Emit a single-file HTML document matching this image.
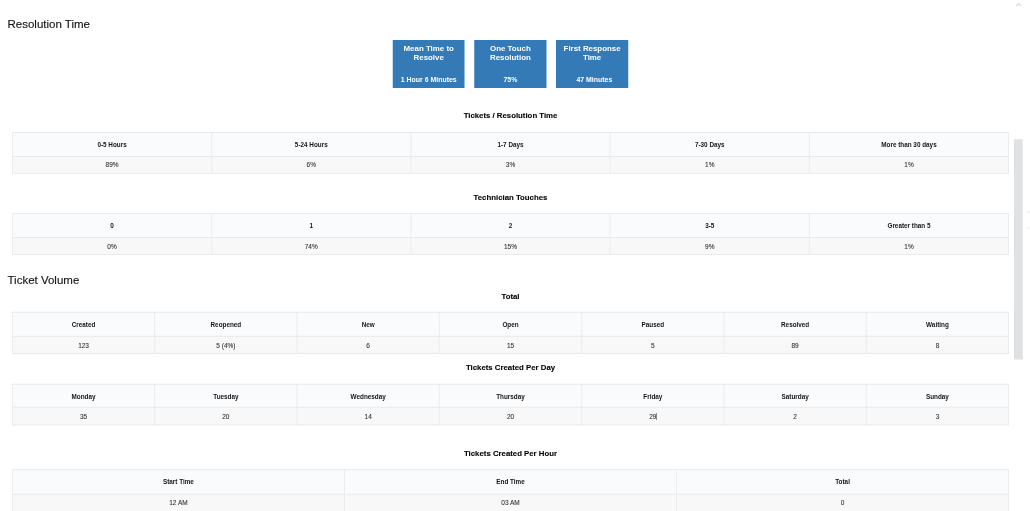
<!DOCTYPE html>
<html><head><meta charset="utf-8"><title>Report</title>
<style>
html,body{margin:0;padding:0;background:#fff;overflow:hidden;}
body{width:1030px;height:511px;position:relative;}
#pg{position:absolute;left:0;top:0;width:4120.00px;height:2044.00px;transform:scale(0.25);transform-origin:0 0;font-family:"Liberation Sans",Arial,sans-serif;color:#333;overflow:hidden;}
.h{position:absolute;left:30.00px;font-size:46.00px;color:#111;-webkit-text-stroke:0.48px #111;line-height:56.00px;white-space:nowrap;}
.cap{position:absolute;left:49.60px;width:3984.80px;text-align:center;font-weight:bold;font-size:31.20px;line-height:40.00px;color:#000;-webkit-text-stroke:0.40px #000;white-space:nowrap;}
.box{position:absolute;top:159.60px;height:192.40px;background:#337ab7;color:#fff;font-weight:bold;text-align:center;}
.box .t{position:absolute;left:0;right:0;top:15.80px;font-size:31.60px;line-height:36.00px;}
.box .v{position:absolute;left:0;right:0;top:143.20px;font-size:27.80px;line-height:32.00px;}
.tbl{position:absolute;left:49.60px;width:3984.80px;}
.bg{position:absolute;left:0;right:0;}
.hd{background:#fafbfd;}
.bd{background:#f8f8f8;}
.hl{position:absolute;left:-2.00px;right:-2.00px;height:4.00px;background:#e8eaec;}
.vl{position:absolute;top:-2.00px;bottom:-2.00px;width:4.00px;background:#eaecee;}
.c{position:absolute;text-align:center;white-space:nowrap;overflow:hidden;}
.th{font-weight:bold;color:#151515;font-size:25.40px;}
.td{color:#303030;font-size:26.00px;-webkit-text-stroke:0.32px #303030;}
.sb{position:absolute;left:4056.00px;top:556.80px;width:35.20px;height:881.20px;background:#e0e1e3;}
.fl{position:absolute;left:4104.00px;width:16.00px;height:3.20px;background:#ebecee;}
.cur{display:inline-block;width:2.40px;height:28.00px;background:#222;vertical-align:-4.00px;margin-right:-2.40px;}
</style></head><body><div id="pg">
<div class="h" style="top:68.00px">Resolution Time</div>
<div class="box" style="left:1571.20px;width:287.20px"><div class="t">Mean Time to<br>Resolve</div><div class="v">1 Hour 6 Minutes</div></div>
<div class="box" style="left:1896.80px;width:289.60px"><div class="t">One Touch<br>Resolution</div><div class="v">75%</div></div>
<div class="box" style="left:2224.00px;width:288.80px"><div class="t">First Response<br>Time</div><div class="v" style="padding-left:18.00px">47 Minutes</div></div>

<div class="cap" style="top:441.60px">Tickets / Resolution Time</div>
<div class="tbl" style="top:530.00px;height:163.20px">
<div class="bg hd" style="top:0;height:95.60px"></div>
<div class="bg bd" style="top:95.60px;height:67.60px"></div>
<div class="hl" style="top:-2.00px"></div>
<div class="hl" style="top:93.60px"></div>
<div class="hl" style="top:161.20px"></div>
<div class="vl" style="left:-2.00px"></div>
<div class="vl" style="left:794.96px"></div>
<div class="vl" style="left:1591.92px"></div>
<div class="vl" style="left:2388.88px"></div>
<div class="vl" style="left:3185.84px"></div>
<div class="vl" style="left:3982.80px"></div>
<div class="c th" style="left:0.00px;width:796.96px;top:0.00px;height:95.60px;line-height:95.60px">0-5 Hours</div>
<div class="c th" style="left:796.96px;width:796.96px;top:0.00px;height:95.60px;line-height:95.60px">5-24 Hours</div>
<div class="c th" style="left:1593.92px;width:796.96px;top:0.00px;height:95.60px;line-height:95.60px">1-7 Days</div>
<div class="c th" style="left:2390.88px;width:796.96px;top:0.00px;height:95.60px;line-height:95.60px">7-30 Days</div>
<div class="c th" style="left:3187.84px;width:796.96px;top:0.00px;height:95.60px;line-height:95.60px">More than 30 days</div>
<div class="c td" style="left:0.00px;width:796.96px;top:96.40px;height:67.60px;line-height:67.60px">89%</div>
<div class="c td" style="left:796.96px;width:796.96px;top:96.40px;height:67.60px;line-height:67.60px">6%</div>
<div class="c td" style="left:1593.92px;width:796.96px;top:96.40px;height:67.60px;line-height:67.60px">3%</div>
<div class="c td" style="left:2390.88px;width:796.96px;top:96.40px;height:67.60px;line-height:67.60px">1%</div>
<div class="c td" style="left:3187.84px;width:796.96px;top:96.40px;height:67.60px;line-height:67.60px">1%</div>
</div>

<div class="cap" style="top:770.00px">Technician Touches</div>
<div class="tbl" style="top:853.60px;height:164.80px">
<div class="bg hd" style="top:0;height:96.20px"></div>
<div class="bg bd" style="top:96.20px;height:68.60px"></div>
<div class="hl" style="top:-2.00px"></div>
<div class="hl" style="top:94.20px"></div>
<div class="hl" style="top:162.80px"></div>
<div class="vl" style="left:-2.00px"></div>
<div class="vl" style="left:794.96px"></div>
<div class="vl" style="left:1591.92px"></div>
<div class="vl" style="left:2388.88px"></div>
<div class="vl" style="left:3185.84px"></div>
<div class="vl" style="left:3982.80px"></div>
<div class="c th" style="left:0.00px;width:796.96px;top:0.00px;height:96.20px;line-height:96.20px">0</div>
<div class="c th" style="left:796.96px;width:796.96px;top:0.00px;height:96.20px;line-height:96.20px">1</div>
<div class="c th" style="left:1593.92px;width:796.96px;top:0.00px;height:96.20px;line-height:96.20px">2</div>
<div class="c th" style="left:2390.88px;width:796.96px;top:0.00px;height:96.20px;line-height:96.20px">3-5</div>
<div class="c th" style="left:3187.84px;width:796.96px;top:0.00px;height:96.20px;line-height:96.20px">Greater than 5</div>
<div class="c td" style="left:0.00px;width:796.96px;top:99.80px;height:68.60px;line-height:68.60px">0%</div>
<div class="c td" style="left:796.96px;width:796.96px;top:99.80px;height:68.60px;line-height:68.60px">74%</div>
<div class="c td" style="left:1593.92px;width:796.96px;top:99.80px;height:68.60px;line-height:68.60px">15%</div>
<div class="c td" style="left:2390.88px;width:796.96px;top:99.80px;height:68.60px;line-height:68.60px">9%</div>
<div class="c td" style="left:3187.84px;width:796.96px;top:99.80px;height:68.60px;line-height:68.60px">1%</div>
</div>

<div class="h" style="top:1092.00px">Ticket Volume</div>
<div class="cap" style="top:1164.00px">Total</div>
<div class="tbl" style="top:1249.20px;height:164.40px">
<div class="bg hd" style="top:0;height:96.00px"></div>
<div class="bg bd" style="top:96.00px;height:68.40px"></div>
<div class="hl" style="top:-2.00px"></div>
<div class="hl" style="top:94.00px"></div>
<div class="hl" style="top:162.40px"></div>
<div class="vl" style="left:-2.00px"></div>
<div class="vl" style="left:567.26px"></div>
<div class="vl" style="left:1136.51px"></div>
<div class="vl" style="left:1705.77px"></div>
<div class="vl" style="left:2275.03px"></div>
<div class="vl" style="left:2844.29px"></div>
<div class="vl" style="left:3413.54px"></div>
<div class="vl" style="left:3982.80px"></div>
<div class="c th" style="left:0.00px;width:569.26px;top:2.00px;height:96.00px;line-height:96.00px">Created</div>
<div class="c th" style="left:569.26px;width:569.26px;top:2.00px;height:96.00px;line-height:96.00px">Reopened</div>
<div class="c th" style="left:1138.51px;width:569.26px;top:2.00px;height:96.00px;line-height:96.00px">New</div>
<div class="c th" style="left:1707.77px;width:569.26px;top:2.00px;height:96.00px;line-height:96.00px">Open</div>
<div class="c th" style="left:2277.03px;width:569.26px;top:2.00px;height:96.00px;line-height:96.00px">Paused</div>
<div class="c th" style="left:2846.29px;width:569.26px;top:2.00px;height:96.00px;line-height:96.00px">Resolved</div>
<div class="c th" style="left:3415.54px;width:569.26px;top:2.00px;height:96.00px;line-height:96.00px">Waiting</div>
<div class="c td" style="left:0.00px;width:569.26px;top:98.00px;height:68.40px;line-height:68.40px">123</div>
<div class="c td" style="left:569.26px;width:569.26px;top:98.00px;height:68.40px;line-height:68.40px">5 (4%)</div>
<div class="c td" style="left:1138.51px;width:569.26px;top:98.00px;height:68.40px;line-height:68.40px">6</div>
<div class="c td" style="left:1707.77px;width:569.26px;top:98.00px;height:68.40px;line-height:68.40px">15</div>
<div class="c td" style="left:2277.03px;width:569.26px;top:98.00px;height:68.40px;line-height:68.40px">5</div>
<div class="c td" style="left:2846.29px;width:569.26px;top:98.00px;height:68.40px;line-height:68.40px">89</div>
<div class="c td" style="left:3415.54px;width:569.26px;top:98.00px;height:68.40px;line-height:68.40px">8</div>
</div>

<div class="cap" style="top:1450.00px">Tickets Created Per Day</div>
<div class="tbl" style="top:1537.20px;height:162.80px">
<div class="bg hd" style="top:0;height:91.60px"></div>
<div class="bg bd" style="top:91.60px;height:71.20px"></div>
<div class="hl" style="top:-2.00px"></div>
<div class="hl" style="top:89.60px"></div>
<div class="hl" style="top:160.80px"></div>
<div class="vl" style="left:-2.00px"></div>
<div class="vl" style="left:567.26px"></div>
<div class="vl" style="left:1136.51px"></div>
<div class="vl" style="left:1705.77px"></div>
<div class="vl" style="left:2275.03px"></div>
<div class="vl" style="left:2844.29px"></div>
<div class="vl" style="left:3413.54px"></div>
<div class="vl" style="left:3982.80px"></div>
<div class="c th" style="left:0.00px;width:569.26px;top:2.40px;height:91.60px;line-height:91.60px">Monday</div>
<div class="c th" style="left:569.26px;width:569.26px;top:2.40px;height:91.60px;line-height:91.60px">Tuesday</div>
<div class="c th" style="left:1138.51px;width:569.26px;top:2.40px;height:91.60px;line-height:91.60px">Wednesday</div>
<div class="c th" style="left:1707.77px;width:569.26px;top:2.40px;height:91.60px;line-height:91.60px">Thursday</div>
<div class="c th" style="left:2277.03px;width:569.26px;top:2.40px;height:91.60px;line-height:91.60px">Friday</div>
<div class="c th" style="left:2846.29px;width:569.26px;top:2.40px;height:91.60px;line-height:91.60px">Saturday</div>
<div class="c th" style="left:3415.54px;width:569.26px;top:2.40px;height:91.60px;line-height:91.60px">Sunday</div>
<div class="c td" style="left:0.00px;width:569.26px;top:94.80px;height:71.20px;line-height:71.20px">35</div>
<div class="c td" style="left:569.26px;width:569.26px;top:94.80px;height:71.20px;line-height:71.20px">20</div>
<div class="c td" style="left:1138.51px;width:569.26px;top:94.80px;height:71.20px;line-height:71.20px">14</div>
<div class="c td" style="left:1707.77px;width:569.26px;top:94.80px;height:71.20px;line-height:71.20px">20</div>
<div class="c td" style="left:2277.03px;width:569.26px;top:94.80px;height:71.20px;line-height:71.20px">29<span class="cur"></span></div>
<div class="c td" style="left:2846.29px;width:569.26px;top:94.80px;height:71.20px;line-height:71.20px">2</div>
<div class="c td" style="left:3415.54px;width:569.26px;top:94.80px;height:71.20px;line-height:71.20px">3</div>
</div>

<div class="cap" style="top:1792.80px">Tickets Created Per Hour</div>
<div class="tbl" style="top:1879.20px;height:168.80px">
<div class="bg hd" style="top:0;height:97.60px"></div>
<div class="bg bd" style="top:97.60px;height:71.20px"></div>
<div class="hl" style="top:-2.00px"></div>
<div class="hl" style="top:95.60px"></div>
<div class="hl" style="top:166.80px"></div>
<div class="vl" style="left:-2.00px"></div>
<div class="vl" style="left:1326.27px"></div>
<div class="vl" style="left:2654.53px"></div>
<div class="vl" style="left:3982.80px"></div>
<div class="c th" style="left:0.00px;width:1328.27px;top:0.00px;height:97.60px;line-height:97.60px">Start Time</div>
<div class="c th" style="left:1328.27px;width:1328.27px;top:0.00px;height:97.60px;line-height:97.60px">End Time</div>
<div class="c th" style="left:2656.53px;width:1328.27px;top:0.00px;height:97.60px;line-height:97.60px">Total</div>
<div class="c td" style="left:0.00px;width:1328.27px;top:97.60px;height:71.20px;line-height:71.20px">12 AM</div>
<div class="c td" style="left:1328.27px;width:1328.27px;top:97.60px;height:71.20px;line-height:71.20px">03 AM</div>
<div class="c td" style="left:2656.53px;width:1328.27px;top:97.60px;height:71.20px;line-height:71.20px">0</div>
</div>

<div class="sb"></div>
<div class="fl" style="top:846.40px"></div><div class="fl" style="top:911.20px"></div>
<svg style="position:absolute;left:4056.00px;top:4.00px;width:36.00px;height:28.00px" viewBox="0 0 9 7"><path d="M2.3 5 L4.6 2.7 L6.9 5" fill="none" stroke="#dadde2" stroke-width="1.5"/></svg>
</div></body></html>
